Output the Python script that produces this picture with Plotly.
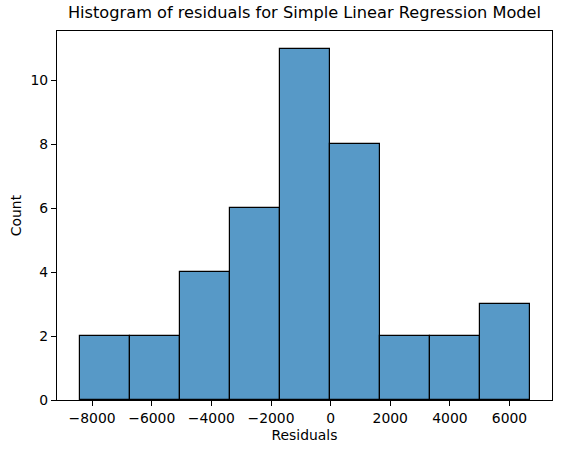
import plotly.graph_objects as go

# histogram bins
bin_start = -8423
bin_width = 1677
counts = [2, 2, 4, 6, 11, 8, 2, 2, 3]

x_ticks = [-8000, -6000, -4000, -2000, 0, 2000, 4000, 6000]
y_ticks = [0, 2, 4, 6, 8, 10]

centers = [bin_start + bin_width * (i + 0.5) for i in range(len(counts))]
x_lo = bin_start
x_hi = bin_start + bin_width * len(counts)
pad = (x_hi - x_lo) * 0.05

fig = go.Figure()
fig.add_trace(go.Bar(
    x=centers, y=counts, width=bin_width,
    marker=dict(color="rgba(31,119,180,0.75)", line=dict(color="black", width=1.2)),
    showlegend=False))

font = dict(family="DejaVu Sans", size=13.9, color="black")
fig.update_layout(
    width=563, height=453,
    margin=dict(l=57, r=11, t=31, b=53, autoexpand=False),
    plot_bgcolor="white", paper_bgcolor="white",
    font=font,
    bargap=0,
    title=dict(text="Histogram of residuals for Simple Linear Regression Model",
               x=(57 + 552) / 2 / 563, xanchor="center", y=1 - 12 / 453, yanchor="middle",
               automargin=False,
               font=dict(family="DejaVu Sans", size=16.2, color="black")),
)
fig.update_xaxes(
    range=[x_lo - pad, x_hi + pad], tickvals=x_ticks, ticks="outside", ticklen=5,
    tickwidth=1.1, tickcolor="black", showline=True, linecolor="black", linewidth=1.1,
    mirror=True, showgrid=False, zeroline=False, automargin=False,
    title=dict(text="Residuals", standoff=5, font=font))
fig.update_yaxes(
    range=[0, max(counts) * 1.05], tickvals=y_ticks, ticks="outside", ticklen=5,
    tickwidth=1.1, tickcolor="black", showline=True, linecolor="black", linewidth=1.1,
    mirror=True, showgrid=False, zeroline=False, automargin=False,
    title=dict(text="Count", standoff=5, font=font))

# page body has a default 8px margin; drop it so the figure sits at 0,0
fig.write_html("out.html", config={"displayModeBar": False},
               post_script="document.body.style.margin='0';")
